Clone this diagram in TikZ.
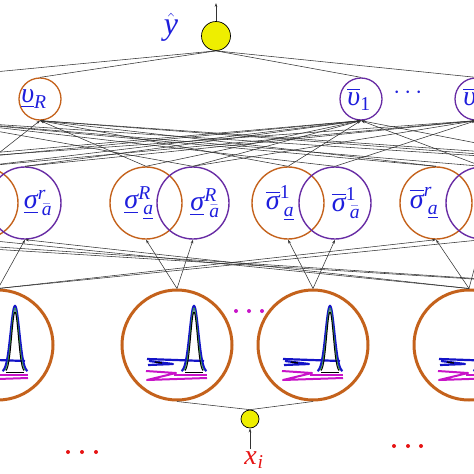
\documentclass[tikz,border=0pt]{standalone}
\usepackage{amsmath}
\usepackage{fontspec}
\setmainfont{Liberation Serif}
\usetikzlibrary{arrows.meta}
\definecolor{orng}{RGB}{196,98,28}
\definecolor{purp}{RGB}{104,44,164}
\definecolor{lblue}{RGB}{30,30,220}
\definecolor{yel}{RGB}{238,238,0}
\definecolor{mag}{RGB}{200,20,200}
\definecolor{redd}{RGB}{230,20,20}
\definecolor{grn}{RGB}{60,170,60}
\definecolor{mfblue}{RGB}{20,20,200}
\newcommand\gs{\text{\itshape σ}}
\newcommand\gu{\text{\itshape υ}}
\newcommand\ia[1]{\text{\itshape #1}}
\newcommand\mfgraph[2]{%
\begin{scope}[shift={(#1,#2)}]
 \draw[mag,line width=2pt,line join=round] (-31,26) -- (-1,28) -- (-30,35) -- (30,33);
 \draw[mag,line width=1.8pt] (-3,30) -- (30,30);
 \draw[mfblue,line width=2.2pt,line join=round] (-30,14) -- (27,16);
 \draw[mfblue,line width=2.2pt,line join=round] (-29,20) -- (-4,19) -- (-28,16);
 \draw[black,line width=1.3pt] (-22,17) -- (-15,18);
 \draw[mfblue,line width=2.2pt] plot[domain=-12.5:12.5,samples=60,smooth] (\x+17,{27-66*exp(-(\x*\x)/37)});
 \draw[grn,line width=0.7pt] plot[domain=-10:10,samples=60,smooth] (\x+17,{27-64*exp(-(\x*\x)/28)});
 \draw[black,line width=1pt] plot[domain=-9:9,samples=60,smooth] (\x+17,{27-60*exp(-(\x*\x)/22)});
 \draw[black,line width=1pt] (8,27) -- (26,27);
\end{scope}}
\begin{document}
\begin{tikzpicture}[x=1pt,y=-1pt,
  lbl/.style={text=lblue,font=\fontsize{28}{32}\selectfont,inner sep=0pt},
  vlow/.style={circle,draw=orng,line width=1.3pt,minimum size=42pt,inner sep=0pt},
  vup/.style={vlow,draw=purp},
  siglow/.style={circle,draw=orng,line width=1.4pt,minimum size=72pt,inner sep=0pt},
  sigup/.style={siglow,draw=purp},
  mfnode/.style={circle,draw=orng,line width=3pt,minimum size=110pt,inner sep=0pt},
  ionode/.style={circle,draw=black,fill=yel,line width=0.7pt,inner sep=0pt},
  wire/.style={black!80,line width=0.55pt},
  arr/.style={wire,-{Stealth[length=4pt,width=2.6pt]}},
]
\useasboundingbox (0,0) rectangle (474,474);
\clip (0,0) rectangle (474,474);

% output
\node[ionode,minimum size=29pt] (yout) at (216,36) {};
\coordinate (ytop) at (216,3);
\draw[arr] (yout.north) -- (ytop);
\node[lbl,font=\fontsize{32}{36}\selectfont] (yhat) at (171,27) {$\hat{\ia{y}}$};

% consequent nodes
\node[vlow] (vL) at (-62,99) {};
\node[vlow] (vR) at (40,99) {};
\node[vup] (vb1) at (361,99) {};
\node[vup] (vbR) at (476,99) {};
\node[lbl] (vLt) at (-66,99) {$\underline{\gu}_{\text{1}}$};
\node[lbl] (vRt) at (34,99) {$\underline{\gu}_{\ia{R}}$};
\node[lbl] (vb1t) at (359,99) {$\overline{\gu}_{\text{1}}$};
\node[lbl] (vbRt) at (476,99) {$\overline{\gu}_{\ia{R}}$};
\node[lbl] (vdots) at (410,93) {$\cdots$};

\foreach \v in {vL,vR,vb1,vbR} \draw[wire] (yout.south) -- (\v.north);

% rule nodes
\node[siglow] (slr) at (-18,203) {};
\node[sigup]  (sur) at (25,203) {};
\node[siglow] (slR) at (146,203) {};
\node[sigup]  (suR) at (193,203) {};
\node[siglow] (sbl1) at (288,203) {};
\node[sigup]  (sbu1) at (335,203) {};
\node[siglow] (sblr) at (436,203) {};
\node[sigup]  (sbur) at (482,203) {};
\node[lbl] (slrt) at (-27,203) {$\underline{\gs}^{\ia{r}}_{\kern4pt\underline{\ia{a}}}$};
\node[lbl] (surt) at (38,203) {$\underline{\gs}^{\ia{r}}_{\kern4pt\bar{\ia{a}}}$};
\node[lbl] (slRt) at (139,203) {$\underline{\gs}^{\ia{R}}_{\kern5pt\underline{\ia{a}}}$};
\node[lbl] (suRt) at (205,203) {$\underline{\gs}^{\ia{R}}_{\kern5pt\bar{\ia{a}}}$};
\node[lbl] (sbl1t) at (280,203) {$\overline{\gs}^{\text{1}}_{\kern4pt\underline{\ia{a}}}$};
\node[lbl] (sbu1t) at (346,203) {$\overline{\gs}^{\text{1}}_{\kern4pt\bar{\ia{a}}}$};
\node[lbl] (sblrt) at (424,203) {$\overline{\gs}^{\ia{r}}_{\kern4pt\underline{\ia{a}}}$};
\node[lbl] (sburt) at (495,203) {$\overline{\gs}^{\ia{r}}_{\kern4pt\bar{\ia{a}}}$};

% off-picture ends
\coordinate (ot1) at (-170,167);
\coordinate (ot2) at (-123,167);
\coordinate (or1) at (600,167);
\coordinate (or2) at (650,167);
\coordinate (or3) at (700,167);
\coordinate (ob1) at (-170,239);
\coordinate (ob2) at (-123,239);
\coordinate (omf) at (650,290);

% rule -> consequent
\foreach \s in {slr,slR,sbl1,sblr} \draw[arr] (\s.north) -- (vR.south);
\foreach \s in {or2,or3} \draw[arr] (\s) -- (vR.south);
\foreach \s in {suR,sbu1,sblr,sbur} \draw[arr] (\s.north) -- (vL.south);
\draw[arr] (or2) -- (vL.south);
\foreach \s in {slr,sur,slR,suR,sbl1,sbur} \draw[arr] (\s.north) -- (vb1.south);
\foreach \s in {ot1,ot2,or1} \draw[arr] (\s) -- (vb1.south);
\foreach \s in {slr,sur,suR,sbu1} \draw[arr] (\s.north) -- (vbR.south);
\foreach \s in {ot1,or3} \draw[arr] (\s) -- (vbR.south);

% membership nodes
\node[mfnode] (B0) at (-2,345) {};
\node[mfnode] (B1) at (177,345) {};
\node[mfnode] (B2) at (313,345) {};
\node[mfnode] (B3) at (469,345) {};
\mfgraph{-2}{345}
\mfgraph{177}{345}
\mfgraph{313}{345}
\mfgraph{469}{345}

% membership -> rule
\foreach \s in {slr,sur,sblr,sbur} \draw[arr] (B0.north) -- (\s.south);
\foreach \s in {slR,suR} \draw[arr] (B1.north) -- (\s.south);
\foreach \s in {sbl1,sbu1} \draw[arr] (B2.north) -- (\s.south);
\foreach \s in {sblr,sbur,slr,sur} \draw[arr] (B3.north) -- (\s.south);
\draw[wire] (ob1) -- (omf);
\draw[wire] (ob2) -- (omf);

% input
\node[ionode,minimum size=18pt] (xin) at (250,419) {};
\coordinate (xbot) at (250,449);
\draw[arr] (xbot) -- (xin.south);
\draw[wire] (xin.north) -- (B1.south);
\draw[wire] (xin.north) -- (B2.south);
\node[text=redd,font=\fontsize{28}{32}\selectfont,inner sep=0pt] (xlab) at (254,460) {$\ia{x}_{\kern1pt\ia{i}}$};

% dots
\foreach \x in {236,249,262} \fill[mag] (\x,311) circle (2);
\foreach \x in {68,82,96} \fill[redd] (\x,452) circle (2);
\foreach \x in {394,408,421} \fill[redd] (\x,446) circle (2);
\end{tikzpicture}
\end{document}
